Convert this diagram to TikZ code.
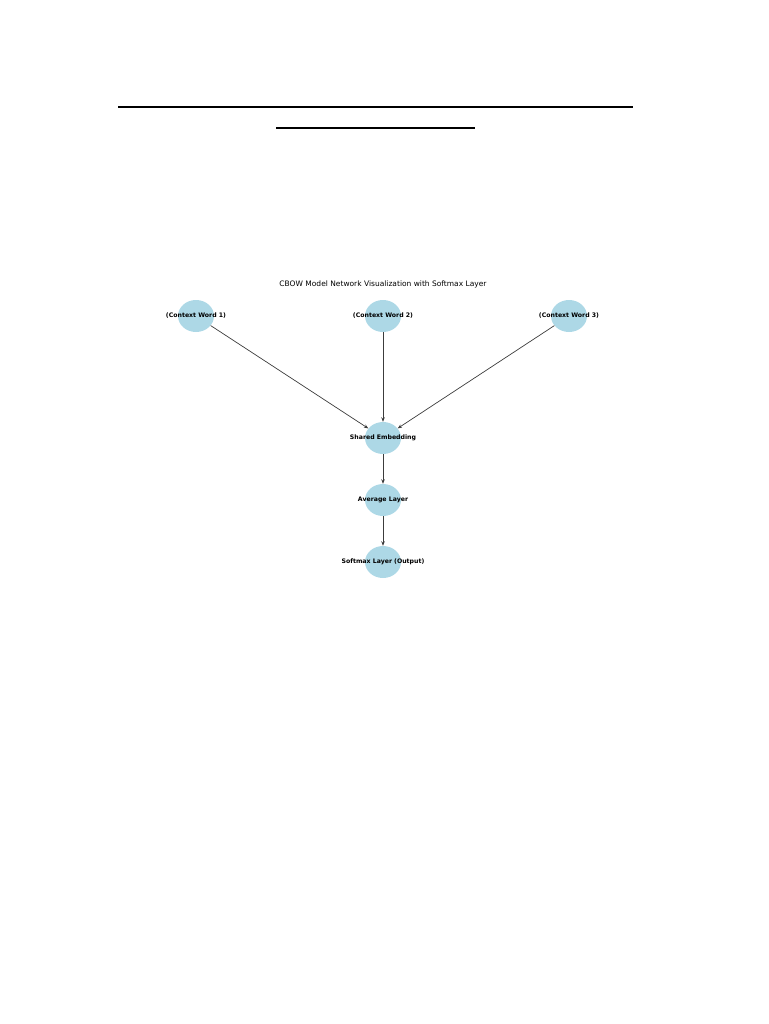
\documentclass[tikz,border=0pt]{standalone}
\usepackage{fontspec}
\setmainfont{DejaVu Sans}
\usetikzlibrary{shapes.geometric,arrows.meta}
\definecolor{nodeblue}{RGB}{173,216,230}
\definecolor{edgegray}{RGB}{60,60,60}
\begin{document}
\begin{tikzpicture}
        [x=1pt,y=-1pt,%%%%%%%%%%%%%%%%%%%%%%%%%%%%%%
            layer/.style={ellipse,fill=nodeblue,minimum width=36pt,minimum height=32pt,inner sep=0pt},
            lbl/.style={font=\fontsize{6.2}{7}\selectfont\bfseries,text=black},
            conn/.style={draw=edgegray,line width=0.7pt,-{Stealth[length=4.5pt,width=3.5pt]}},
            rule/.style={line width=2pt,black},
        ]%%%%%%%%%%%%%%%%%%%%%%%%%%%%%%
        \useasboundingbox (0,0) rectangle (768,1024);

        \draw[rule] (118,107) -- (633,107);
        \draw[rule] (276,128) -- (475,128);

        \node[font=\fontsize{7.5}{9}\selectfont] (title) at (383,284) {CBOW Model Network Visualization with Softmax Layer};

        \foreach \i/\x in {1/196,2/383,3/569}{
            \node[layer,label={[lbl]center:(Context Word \i)}] (ctx\i) at (\x,316) {};
        }
        \node[layer,label={[lbl]center:Shared Embedding}] (embed) at (383,438) {};
        \node[layer,label={[lbl]center:Average Layer}] (avg) at (383,500) {};
        \node[layer,label={[lbl]center:Softmax Layer (Output)}] (softmax) at (383,562) {};

        \foreach \i in {1,2,3}{
            \draw[conn] (ctx\i) -- (embed);
        }
        \draw[conn] (embed) -- (avg);
        \draw[conn] (avg) -- (softmax);
    \end{tikzpicture}
\end{document}
